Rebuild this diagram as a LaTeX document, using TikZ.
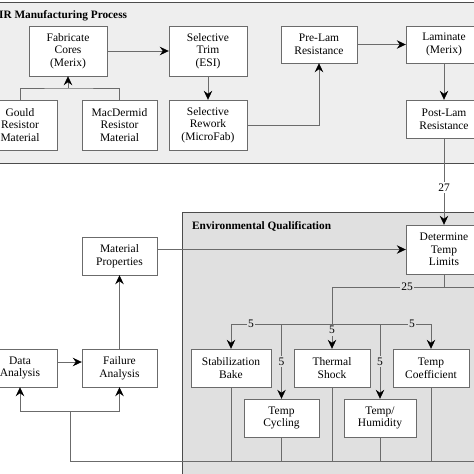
\documentclass[tikz,border=0pt]{standalone}
\usepackage{fontspec}
\setmainfont{Liberation Serif}
\usetikzlibrary{arrows.meta}
\usetikzlibrary{positioning}
\definecolor{mfggray}{gray}{0.935}
\definecolor{envgray}{gray}{0.88}
\definecolor{linegray}{gray}{0.42}
\tikzset{box/.style={rectangle, draw=linegray, fill=white, align=center,
inner sep=0pt, font=\fontsize{11.5}{12.6}\selectfont},
panel/.style={draw=black!70, thick},
ptitle/.style={anchor=base west, inner sep=0pt, font=\fontsize{11.3}{12}\selectfont\bfseries},
lbl/.style={inner sep=1.5pt, font=\fontsize{11.5}{12}\selectfont},
-/.style={draw=linegray, thick},
arr/.style={-, -{Stealth[length=9pt,width=8.5pt,inset=3pt,color=black]}}}

\begin{document}
\begin{tikzpicture}[x=1pt,y=-1pt]
  \useasboundingbox (0,0) rectangle (474,474);
  % panels
  \fill [white] (0,0) rectangle (474,474);
  \draw [panel, fill=mfggray] (-10,2) rectangle (490,163);
  \draw [panel, fill=envgray] (182,212) rectangle (490,490);
  \node (mfgtitle) [ptitle] at (-1,18) {IR Manufacturing Process};
  \node (envtitle) [ptitle] at (192,229) {Environmental Qualification};

  % manufacturing
  \node (fab) [box, minimum width=78pt, minimum height=50pt] at (68,51) {Fabricate\\Cores\\(Merix)};
  \node (trim) [box, minimum width=78pt, minimum height=50pt] at (208,51) {Selective\\Trim\\(ESI)};
  \node (prelam) [box, minimum width=76pt, minimum height=37pt] at (319,44.5) {Pre-Lam\\Resistance};
  \node (lam) [box, minimum width=76pt, minimum height=37pt] at (444,44.5) {Laminate\\(Merix)};
  \node (gould) [box, minimum width=74pt, minimum height=50pt] at (20,125) {Gould\\Resistor\\Material};
  \node (macd) [box, minimum width=75pt, minimum height=50pt] at (119.5,125) {MacDermid\\Resistor\\Material};
  \node (rework) [box, minimum width=78pt, minimum height=50pt] at (208,125) {Selective\\Rework\\(MicroFab)};
  \node (postlam) [box, minimum width=76pt, minimum height=38pt] at (444,119) {Post-Lam\\Resistance};

  % analysis
  \node (matprop) [box, minimum width=75pt, minimum height=38pt] at (119.5,256) {Material\\Properties};
  \node (data) [box, minimum width=74pt, minimum height=38pt] at (20,368) {Data\\Analysis};
  \node (fail) [box, minimum width=75pt, minimum height=38pt] at (119.5,368) {Failure\\Analysis};

  % qualification
  \node (detlim) [box, minimum width=76pt, minimum height=49pt] at (444,249.5) {Determine\\Temp\\Limits};
  \node (stab) [box, minimum width=80pt, minimum height=38pt] at (231,368) {Stabilization\\Bake};
  \node (shock) [box, minimum width=76pt, minimum height=38pt] at (332,368) {Thermal\\Shock};
  \node (coef) [box, minimum width=76pt, minimum height=38pt] at (431,368) {Temp\\Coefficient};
  \node (cyc) [box, minimum width=75pt, minimum height=38pt] at (281.5,418) {Temp\\Cycling};
  \node (humid) [box, minimum width=72pt, minimum height=38pt] at (380,418) {Temp/\\Humidity};

  \coordinate (join) at (68,88);
  \coordinate (d25) at (444,287);
  \coordinate (split25) at (332,287);
  \coordinate (end25) at (480,287);
  \coordinate (s5l) at (231,324);
  \coordinate (s5r) at (431,324);
  \coordinate (fb) at (70,461);
  \coordinate (fbr) at (480,461);
  \coordinate (fbk) at (70,411);

  \draw [-] (gould) |- (join) -| (macd);
  \draw [arr] (join) -- (fab);
  \draw [arr] (fab) -- (trim);
  \draw [arr] (trim) -- (rework);
  \draw [arr] (rework) -| (prelam);
  \draw [arr] (prelam) -- (lam);
  \draw [arr] (lam) -- (postlam);
  \draw [arr] (postlam) -- node [lbl, fill=white, pos=0.57] {27} (detlim);

  \draw [arr] (matprop.east |- detlim) -- (detlim);
  \draw [arr] (fail) -- (matprop);
  \draw [arr] ([yshift=6pt]data.east) -- ([yshift=6pt]fail.west);

  \draw [-] (detlim) -- (d25);
  \draw [-] (split25) -- node [lbl, fill=envgray, pos=0.507] {25} (end25);
  \draw [-] (split25) -- (split25 |- s5l);
  \draw [-] (s5l) -- node [lbl, fill=envgray, pos=0.1] {5} node [lbl, fill=envgray, pos=0.905] {5} (s5r);
  \draw [arr] (s5l) -- (stab);
  \draw [arr] (s5l -| shock) -- node [lbl, fill=envgray, pos=0.25] {5} (shock);
  \draw [arr] (s5r) -- (coef);
  \draw [arr] (s5l -| cyc) -- node [lbl, fill=envgray] {5} (cyc);
  \draw [arr] (s5l -| humid) -- node [lbl, fill=envgray] {5} (humid);

  % feedback
  \draw [-] (stab) -- (stab |- fb);
  \draw [-] (cyc) -- (cyc |- fb);
  \draw [-] (shock) -- (shock |- fb);
  \draw [-] (humid) -- (humid |- fb);
  \draw [-] (coef) -- (coef |- fb);
  \draw [-] (fbr) -- (fb) -- (fbk);
  \draw [arr] (fbk) -| (data);
  \draw [arr] (fbk) -| (fail);
\end{tikzpicture}
\end{document}
